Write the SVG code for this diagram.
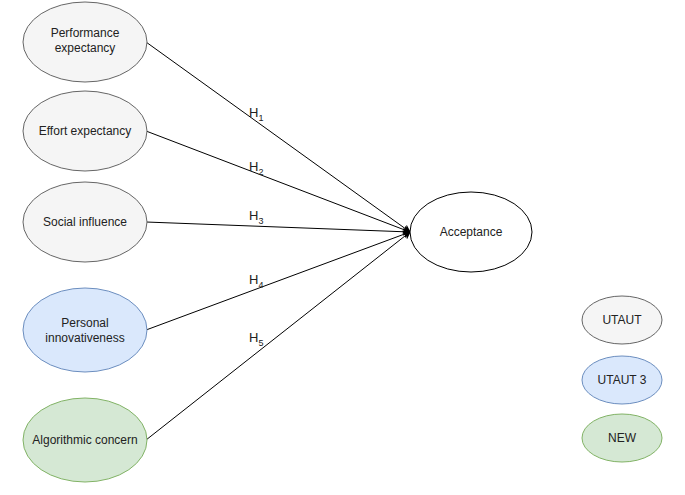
<svg xmlns="http://www.w3.org/2000/svg" width="685" height="495" viewBox="0 0 685 495">
<style>
text{font-family:"Liberation Sans",Arial,sans-serif;font-size:12px;fill:#222;text-anchor:middle}
.g{fill:#f5f5f5;stroke:#666;stroke-width:1}
.b{fill:#dae8fc;stroke:#6c8ebf;stroke-width:1}
.n{fill:#d5e8d4;stroke:#82b366;stroke-width:1}
.w{fill:#fff;stroke:#000;stroke-width:1}
.c line{stroke:#000;stroke-width:1;marker-end:url(#a)}
.h{font-size:13px;text-anchor:start}
.h tspan.s{font-size:9px}
</style>
<defs><marker id="a" markerWidth="8" markerHeight="8" refX="7" refY="4" orient="auto" markerUnits="userSpaceOnUse"><path d="M0,0 L8,4 L0,8 L2,4 z" fill="#000"/></marker></defs>
<rect width="685" height="495" fill="#fff"/>
<g class="c">
<line x1="146" y1="42" x2="410" y2="232"/>
<line x1="146" y1="131" x2="410" y2="232"/>
<line x1="146" y1="222" x2="410" y2="232"/>
<line x1="146" y1="330" x2="410" y2="232"/>
<line x1="146" y1="440" x2="410" y2="232"/>
</g>
<g id="labels">
<text class="h" x="249" y="117">H<tspan class="s" dy="4">1</tspan></text>
<text class="h" x="249" y="171">H<tspan class="s" dy="4">2</tspan></text>
<text class="h" x="249" y="220">H<tspan class="s" dy="4">3</tspan></text>
<text class="h" x="249" y="284">H<tspan class="s" dy="4">4</tspan></text>
<text class="h" x="249" y="342">H<tspan class="s" dy="4">5</tspan></text>
</g>
<g id="pe"><ellipse class="g" cx="85" cy="42" rx="62" ry="40"/><text x="85" y="37">Performance</text><text x="85" y="52">expectancy</text></g>
<g id="ee"><ellipse class="g" cx="85" cy="131" rx="62" ry="40"/><text x="85" y="135">Effort expectancy</text></g>
<g id="si"><ellipse class="g" cx="85" cy="222" rx="62" ry="40"/><text x="85" y="226">Social influence</text></g>
<g id="pi"><ellipse class="b" cx="85" cy="330" rx="62" ry="42"/><text x="85" y="327">Personal</text><text x="85" y="342">innovativeness</text></g>
<g id="ac"><ellipse class="n" cx="85" cy="440" rx="62" ry="42"/><text x="85" y="444">Algorithmic concern</text></g>
<g id="acc"><ellipse class="w" cx="471" cy="232" rx="61" ry="40"/><text x="471" y="236">Acceptance</text></g>
<g id="l1"><ellipse class="g" cx="622" cy="320" rx="40" ry="24"/><text x="622" y="324">UTAUT</text></g>
<g id="l2"><ellipse class="b" cx="622" cy="380" rx="40" ry="24"/><text x="622" y="384">UTAUT 3</text></g>
<g id="l3"><ellipse class="n" cx="622" cy="438" rx="40" ry="24"/><text x="622" y="442">NEW</text></g>
</svg>
